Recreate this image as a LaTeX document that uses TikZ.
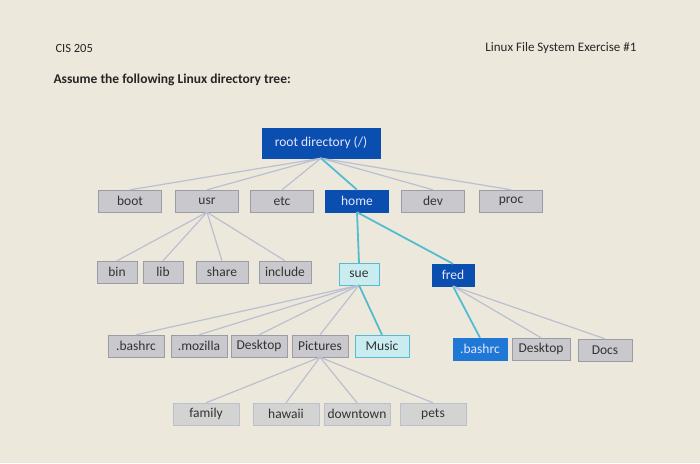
\documentclass[tikz,border=0pt]{standalone}
\usepackage{fontspec}
\setmainfont{Carlito}
\definecolor{bg}{HTML}{ECE9DC}
\definecolor{gfill}{HTML}{C9C9CD}
\definecolor{gline}{HTML}{9C9CA6}
\definecolor{dblue}{HTML}{0A4FB0}
\definecolor{mblue}{HTML}{1F78D6}
\definecolor{lcyan}{HTML}{C8ECEF}
\definecolor{ccline}{HTML}{55BBD0}
\definecolor{gconn}{HTML}{BBBFD0}
\tikzset{
 box/.style={draw=gline,fill=gfill,minimum height=22pt,inner sep=1pt,font=\fontsize{13.5}{14}\selectfont,text=black!80},
 selbox/.style={box,draw=dblue,fill=dblue,text=white!90!blue},
 cbox/.style={box,draw=ccline,fill=lcyan},
 gl/.style={draw=gconn,line width=1.2pt},
 bl/.style={draw=ccline,line width=1.8pt},
 hdr/.style={font=\fontsize{13.5}{15}\selectfont\bfseries,text=black!85},
}
\begin{document}
\begin{tikzpicture}[x=1pt,y=-1pt]
\fill[bg] (0,0) rectangle (700,463);
\useasboundingbox (0,0) rectangle (700,463);
\node[anchor=west,hdr,font=\fontsize{12.5}{15}\selectfont] (t1) at (52,48) {CIS 205};
\node[anchor=east,hdr,font=\fontsize{13}{15}\selectfont] (t2) at (640,48) {Linux File System Exercise \#1};
\node[anchor=west,hdr] (t3) at (50,80) {Assume the following Linux directory tree:};
\node[selbox,minimum width=118pt,minimum height=30pt] (root) at (321,143) {root directory (/)};
\foreach \n/\x/\t in {boot/130/boot,usr/207/usr,etc/282/etc,dev/433/dev,proc/511/proc}
  \node[box,minimum width=63pt] (\n) at (\x,201) {\t};
\node[selbox,minimum width=63pt] (home) at (357,201) {home};
\foreach \n/\x/\w/\t in {bin/117/40/bin,lib/163/40/lib,share/222/52/share,include/285/52/include}
  \node[box,minimum width=\w pt] (\n) at (\x,272) {\t};
\node[cbox,minimum width=40pt] (sue) at (359,274) {sue};
\node[selbox,minimum width=42pt] (fred) at (453,275) {fred};
\foreach \n/\x/\t in {sb/136/.bashrc,sm/199/.mozilla,sd/259/Desktop,sp/320/Pictures}
  \node[box,minimum width=56pt] (\n) at (\x,346) {\t};
\node[cbox,minimum width=54pt] (smu) at (382,346) {Music};
\node[selbox,draw=mblue,fill=mblue,minimum width=54pt] (fb) at (480,349) {.bashrc};
\node[box,minimum width=58pt] (fd) at (541,349) {Desktop};
\node[box,minimum width=54pt] (fdo) at (605,350) {Docs};
\foreach \n/\x/\t in {pf/206/family,ph/286/hawaii,pd/357/downtown,pp/433/pets}
  \node[box,minimum width=66pt,draw=gconn,fill=gfill!70!bg] (\n) at (\x,414) {\t};
\foreach \c in {boot,usr,etc,dev,proc} \draw[gl] (root.south) -- (\c.north);
\draw[bl] (root.south) -- (home.north);
\foreach \c in {bin,lib,share,include} \draw[gl] (usr.south) -- (\c.north);
\draw[bl] (home.south) -- (sue.north);
\draw[bl] (home.south) -- (fred.north);
\foreach \c in {sb,sm,sd,sp} \draw[gl] (sue.south) -- (\c.north);
\draw[bl] (sue.south) -- (smu.north);
\draw[bl] (fred.south) -- (fb.north);
\foreach \c in {fd,fdo} \draw[gl] (fred.south) -- (\c.north);
\foreach \c in {pf,ph,pd,pp} \draw[gl] (sp.south) -- (\c.north);
\end{tikzpicture}
\end{document}
